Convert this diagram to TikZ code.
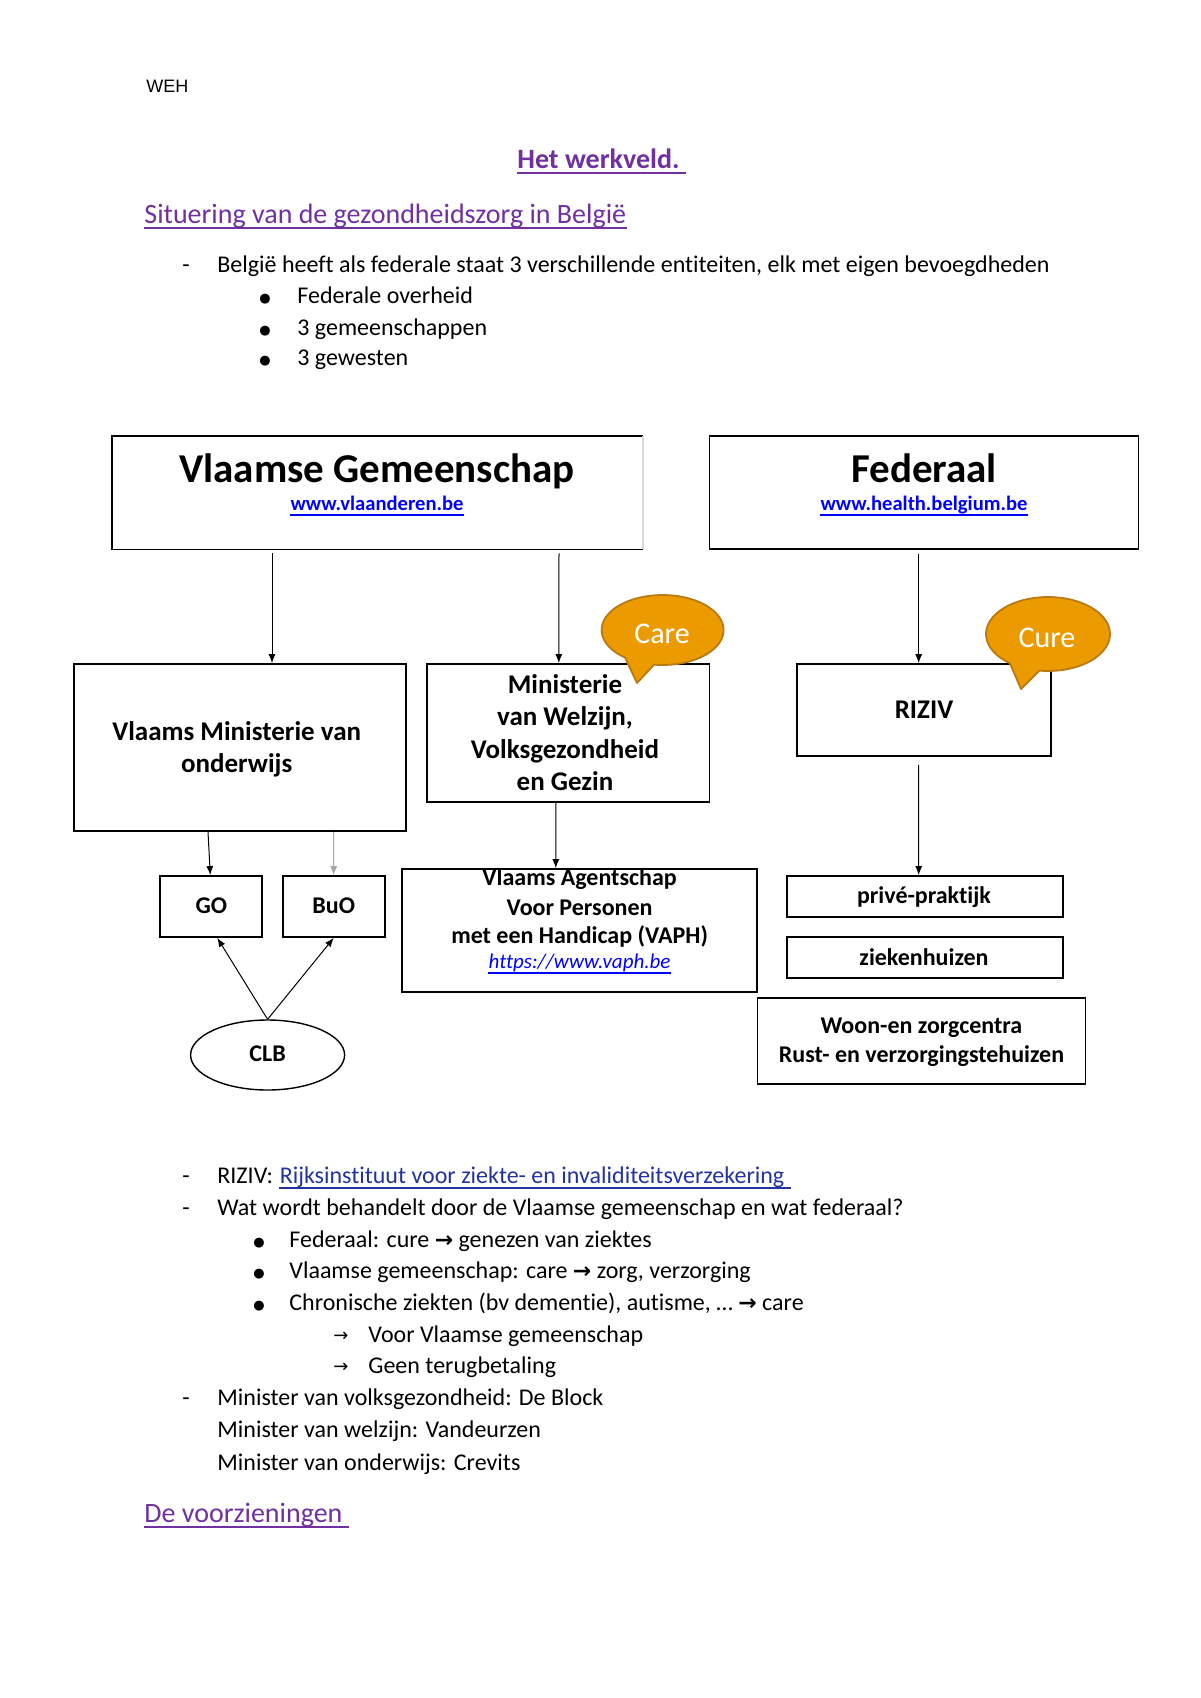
\documentclass[tikz,border=0pt]{standalone}
\usepackage{fontspec}
\setmainfont{Carlito}[Ligatures=NoCommon]
\newfontfamily\arialf{Liberation Sans}
\newfontfamily\dejavu{DejaVu Sans}
\usetikzlibrary{arrows.meta,shapes.geometric,calc}
\definecolor{wpurple}{HTML}{7030A0}
\definecolor{linkblue}{HTML}{2233A0}
\definecolor{urlblue}{HTML}{0000FF}
\definecolor{bubfill}{HTML}{EB9B00}
\definecolor{bubline}{HTML}{B97A12}
\newcommand{\bigarr}{{\dejavu\bfseries\fontsize{11}{12}\selectfont →}}
\newcommand{\bul}{{\dejavu\fontsize{6.5}{9}\selectfont ●}}
\begin{document}
\begin{tikzpicture}[x=0.5pt,y=-0.5pt,
  txt/.style={inner sep=0pt, anchor=base west, font=\fontsize{12}{14}\selectfont},
  ctr/.style={inner sep=0pt, anchor=base, font=\bfseries\fontsize{13.5}{15}\selectfont},
  sml/.style={inner sep=0pt, anchor=base, font=\bfseries\fontsize{12}{14}\selectfont},
  url/.style={inner sep=0pt, anchor=base, text=urlblue, font=\bfseries\fontsize{10.3}{12}\selectfont},
  ttl/.style={inner sep=0pt, anchor=base, font=\bfseries\fontsize{20.5}{23}\selectfont},
  box/.style={draw, line width=0.9pt, inner sep=0pt},
  arr/.style={-{Latex[length=4.5pt,width=3.5pt]}, line width=0.5pt},
  bubble/.style={fill=bubfill, draw=bubline, line width=0.9pt, line join=round},
  bubtxt/.style={inner sep=0pt, anchor=base, text=white, font=\fontsize{15}{17}\selectfont},
  ulp/.style={wpurple, line width=0.8pt},
  ulb/.style={urlblue, line width=0.6pt},
  ull/.style={linkblue, line width=0.6pt}]
\useasboundingbox (0,0) rectangle (1200,1698);

% header
\node[inner sep=0pt, anchor=base west, font=\arialf\fontsize{9}{11}\selectfont] (weh) at (146,92) {WEH};

% titles
\node[inner sep=0pt, anchor=base west, font=\bfseries\fontsize{14}{16}\selectfont, text=wpurple] (t1) at (517,168) {Het werkveld.};
\draw[ulp] ([yshift=-2.5pt]t1.base west) -- ([yshift=-2.5pt,xshift=3pt]t1.base east);
\node[inner sep=0pt, anchor=base west, font=\fontsize{14}{16}\selectfont, text=wpurple] (t2) at (144,223) {Situering van de gezondheidszorg in België};
\draw[ulp] ([yshift=-2.5pt]t2.base west) -- ([yshift=-2.5pt]t2.base east);

% first list
\node[txt] (d1) at (182,272) {-};
\node[txt] (l1) at (217,272) {België heeft als federale staat 3 verschillende entiteiten, elk met eigen bevoegdheden};
\node[txt] (b1) at (259,302) {\bul};
\node[txt] (l2) at (297,303) {Federale overheid};
\node[txt] (b2) at (259,334) {\bul};
\node[txt] (l3) at (297,335) {3 gemeenschappen};
\node[txt] (b3) at (259,364) {\bul};
\node[txt] (l4) at (297,365) {3 gewesten};

% top boxes
\node[inner sep=0pt, minimum width=265pt, minimum height=56.5pt] (vg) at (377.6,492.5) {};
\draw[line width=0.9pt] (vg.north east) -- (vg.north west) -- (vg.south west) -- (vg.south east);
\draw[line width=0.6pt, black!15] (vg.north east) -- (vg.south east);
\node[ttl] (vgt) at (377,482) {Vlaamse Gemeenschap};
\node[url] (vgu) at (377,510) {www.vlaanderen.be};
\draw[ulb] ([yshift=-2.5pt]vgu.base west) -- ([yshift=-2.5pt]vgu.base east);

\node[box, minimum width=214.5pt, minimum height=56.5pt] (fed) at (924,492.5) {};
\node[ttl] (fedt) at (924,482) {Federaal};
\node[url] (fedu) at (924,510) {www.health.belgium.be};
\draw[ulb] ([yshift=-2.5pt]fedu.base west) -- ([yshift=-2.5pt]fedu.base east);

% second row
\node[box, minimum width=166.3pt, minimum height=83.5pt] (ond) at (240,747.5) {};
\node[ctr] (ondt1) at (236.7,740) {Vlaams Ministerie van};
\node[ctr] (ondt2) at (236.7,772) {onderwijs};

\node[box, minimum width=141.4pt, minimum height=69pt] (welz) at (568,733) {};
\node[ctr] (w1) at (565,693) {Ministerie};
\node[ctr] (w2) at (565,725) {van Welzijn,};
\node[ctr] (w3) at (565,758) {Volksgezondheid};
\node[ctr] (w4) at (565,790) {en Gezin};

\node[box, minimum width=126.8pt, minimum height=46pt] (riziv) at (924,710) {};
\node[ctr] (rizt) at (924,718) {RIZIV};

% bubbles
\coordinate (carec) at (662.6,630);
\filldraw[bubble] ($(carec)+(128:61 and 35)$) arc[start angle=128, end angle=458, x radius=61, y radius=35] -- (637,683) -- cycle;
\node[bubtxt] (care) at (662,643) {Care};
\coordinate (curec) at (1048,634);
\filldraw[bubble] ($(curec)+(128:62 and 37)$) arc[start angle=128, end angle=458, x radius=62, y radius=37] -- (1021,689) -- cycle;
\node[bubtxt] (cure) at (1047,647) {Cure};

% third row
\node[box, minimum width=51pt, minimum height=30.5pt] (go) at (211.3,906.5) {};
\node[sml] (got) at (211.3,913) {GO};
\node[box, minimum width=51pt, minimum height=30.5pt] (buo) at (333.7,906.5) {};
\node[sml] (buot) at (333.7,913) {BuO};

\node[box, minimum width=177.6pt, minimum height=61.5pt] (vaph) at (579.6,930.5) {};
\node[sml] (v1) at (579.6,885) {Vlaams Agentschap};
\node[sml] (v2) at (579.6,915) {Voor Personen};
\node[sml] (v3) at (579.6,943) {met een Handicap (VAPH)};
\node[inner sep=0pt, anchor=base, font=\itshape\fontsize{10.5}{12}\selectfont, text=urlblue] (v4) at (579.6,968) {https://www.vaph.be};
\draw[ulb] ([yshift=-2.5pt]v4.base west) -- ([yshift=-2.5pt]v4.base east);

\node[box, minimum width=138pt, minimum height=20.5pt] (prive) at (924.7,896.5) {};
\node[sml] (pt) at (924,903) {privé-praktijk};
\node[box, minimum width=138pt, minimum height=20.5pt] (zh) at (924.7,957.5) {};
\node[sml] (zt) at (924,965) {ziekenhuizen};
\node[box, minimum width=164pt, minimum height=43pt] (woon) at (921.5,1041) {};
\node[sml] (wz1) at (921.5,1033) {Woon-en zorgcentra};
\node[sml] (wz2) at (921.5,1062) {Rust- en verzorgingstehuizen};

\node[ellipse, draw, line width=0.7pt, minimum width=77pt, minimum height=35pt, inner sep=0pt] (clb) at (267.6,1055) {};
\node[sml] (clbt) at (267.6,1061) {CLB};

% connectors
\draw[arr] ([xshift=-52.8pt,yshift=-2pt]vg.south) -- ([xshift=16pt]ond.north);
\draw[arr] ([xshift=90.7pt,yshift=-2pt]vg.south) -- ([xshift=-4.6pt]welz.north);
\draw[arr] ([xshift=-2.65pt,yshift=-2pt]fed.south) -- ([xshift=-2.65pt]riziv.north);
\draw[arr] ([xshift=-16pt]ond.south) -- ([xshift=-0.5pt]go.north);
\draw[arr, draw=black!35] ([xshift=46.85pt]ond.south) -- (buo.north);
\draw[arr] ([xshift=-6.1pt]welz.south) -- ([xshift=-11.9pt]vaph.north);
\draw[arr] ([xshift=-2.65pt,yshift=-4pt]riziv.south) -- ([xshift=-3pt]prive.north);
\draw[arr] (clb.north) -- ([xshift=3pt]go.south);
\draw[arr] (clb.north) -- (buo.south);

% second list
\node[txt] (d2) at (182,1183) {-};
\node[txt] (m1a) at (217,1183) {RIZIV:};
\node[txt, text=linkblue] (m1b) at ([xshift=3pt]m1a.base east) {Rijksinstituut voor ziekte- en invaliditeitsverzekering};
\draw[ull] ([yshift=-2.5pt]m1b.base west) -- ([yshift=-2.5pt,xshift=3pt]m1b.base east);
\node[txt] (d3) at (182,1215) {-};
\node[txt] (m2) at (217,1215) {Wat wordt behandelt door de Vlaamse gemeenschap en wat federaal?};
\node[txt] (b4) at (253,1246) {\bul};
\node[txt] (m3) at (289,1247) {Federaal: cure \bigarr{} genezen van ziektes};
\node[txt] (b5) at (253,1277) {\bul};
\node[txt] (m4) at (289,1278) {Vlaamse gemeenschap: care \bigarr{} zorg, verzorging};
\node[txt] (b6) at (253,1309) {\bul};
\node[txt] (m5) at (289,1310) {Chronische ziekten (bv dementie), autisme, … \bigarr{} care};
\node[txt, font=\dejavu\fontsize{9}{10}\selectfont] (a1) at (333,1341) {→};
\node[txt] (m6) at (368,1342) {Voor Vlaamse gemeenschap};
\node[txt, font=\dejavu\fontsize{9}{10}\selectfont] (a2) at (333,1372) {→};
\node[txt] (m7) at (368,1373) {Geen terugbetaling};
\node[txt] (d4) at (182,1405) {-};
\node[txt] (m8) at (217,1405) {Minister van volksgezondheid: De Block};
\node[txt] (m9) at (217,1437) {Minister van welzijn: Vandeurzen};
\node[txt] (m10) at (217,1470) {Minister van onderwijs: Crevits};

\node[inner sep=0pt, anchor=base west, font=\fontsize{14}{16}\selectfont, text=wpurple] (t3) at (144,1522) {De voorzieningen};
\draw[ulp] ([yshift=-2.5pt]t3.base west) -- ([yshift=-2.5pt,xshift=3pt]t3.base east);
\end{tikzpicture}
\end{document}
